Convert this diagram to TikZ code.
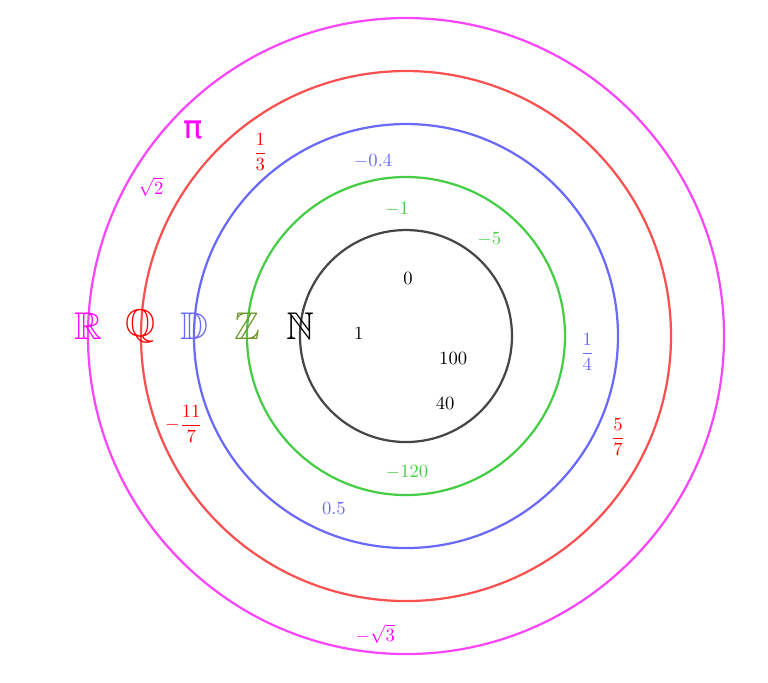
\documentclass[tikz,border=0pt]{standalone}
\usepackage{amsmath, amssymb}
\usepackage{fontspec}
\newfontfamily\pifont{DejaVu Sans}
\usepackage{tikz}
\definecolor{ringR}{RGB}{250,70,250}
\definecolor{ringQ}{RGB}{250,80,80}
\definecolor{ringD}{RGB}{105,105,250}
\definecolor{ringZ}{RGB}{70,205,70}
\definecolor{ringN}{RGB}{70,70,70}
\definecolor{textR}{RGB}{255,0,255}
\definecolor{textQ}{RGB}{255,0,0}
\definecolor{textZ}{RGB}{110,150,40}

\begin{document}
\begin{tikzpicture}
\useasboundingbox (-7.66,-6.53) rectangle (6.83,6.34);

\begin{scope}[line width=1.2pt]
    \draw[ringN] (0,0) circle (2);
    \draw[ringZ] (0,0) circle (3);
    \draw[ringD] (0,0) circle (4);
    \draw[ringQ] (0,0) circle (5);
    \draw[ringR] (0,0) circle (6);
\end{scope}

\begin{scope}[every node/.style={font=\huge}]
    \node[textR] (R) at (-6,0.19) {$\mathbb{R}$};
    \node[textQ] (Q) at (-5,0.19) {$\mathbb{Q}$};
    \node[ringD] (D) at (-4,0.19) {$\mathbb{D}$};
    \node[textZ] (Z) at (-3,0.19) {$\mathbb{Z}$};
    \node[black] (N) at (-2,0.19) {$\mathbb{N}$};
\end{scope}

\begin{scope}[every node/.style={inner sep=1pt}]
    % naturals
    \node (n0)   at (0.04,1.09)  {$0$};
    \node (n1)   at (-0.89,0.04) {$1$};
    \node (n100) at (0.89,-0.43) {$100$};
    \node (n40)  at (0.74,-1.28) {$40$};
    % integers
    \node[ringZ] (zm1)   at (-0.17,2.40) {$-1$};
    \node[ringZ] (zm5)   at (1.57,1.83)  {$-5$};
    \node[ringZ] (zm120) at (0.02,-2.57) {$-120$};
    % decimals
    \node[ringD] (dm04) at (-0.62,3.30) {$-0.4$};
    \node[ringD] (d14)  at (3.42,-0.30) {$\dfrac{1}{4}$};
    \node[ringD] (d05)  at (-1.36,-3.26) {$0.5$};
    % rationals
    \node[textQ] (q13)  at (-2.75,3.47) {$\dfrac{1}{3}$};
    \node[textQ] (q57)  at (4.0,-1.91)  {$\dfrac{5}{7}$};
    \node[textQ] (qm117) at (-4.19,-1.66) {$-\dfrac{11}{7}$};
    % reals
    \node[textR] (rpi) at (-4.02,3.89) {\pifont\LARGE π};
    \node[textR] (rs2) at (-4.81,2.81) {$\sqrt{2}$};
    \node[textR] (rs3) at (-0.58,-5.62) {$-\sqrt{3}$};
\end{scope}
\end{tikzpicture}
\end{document}
